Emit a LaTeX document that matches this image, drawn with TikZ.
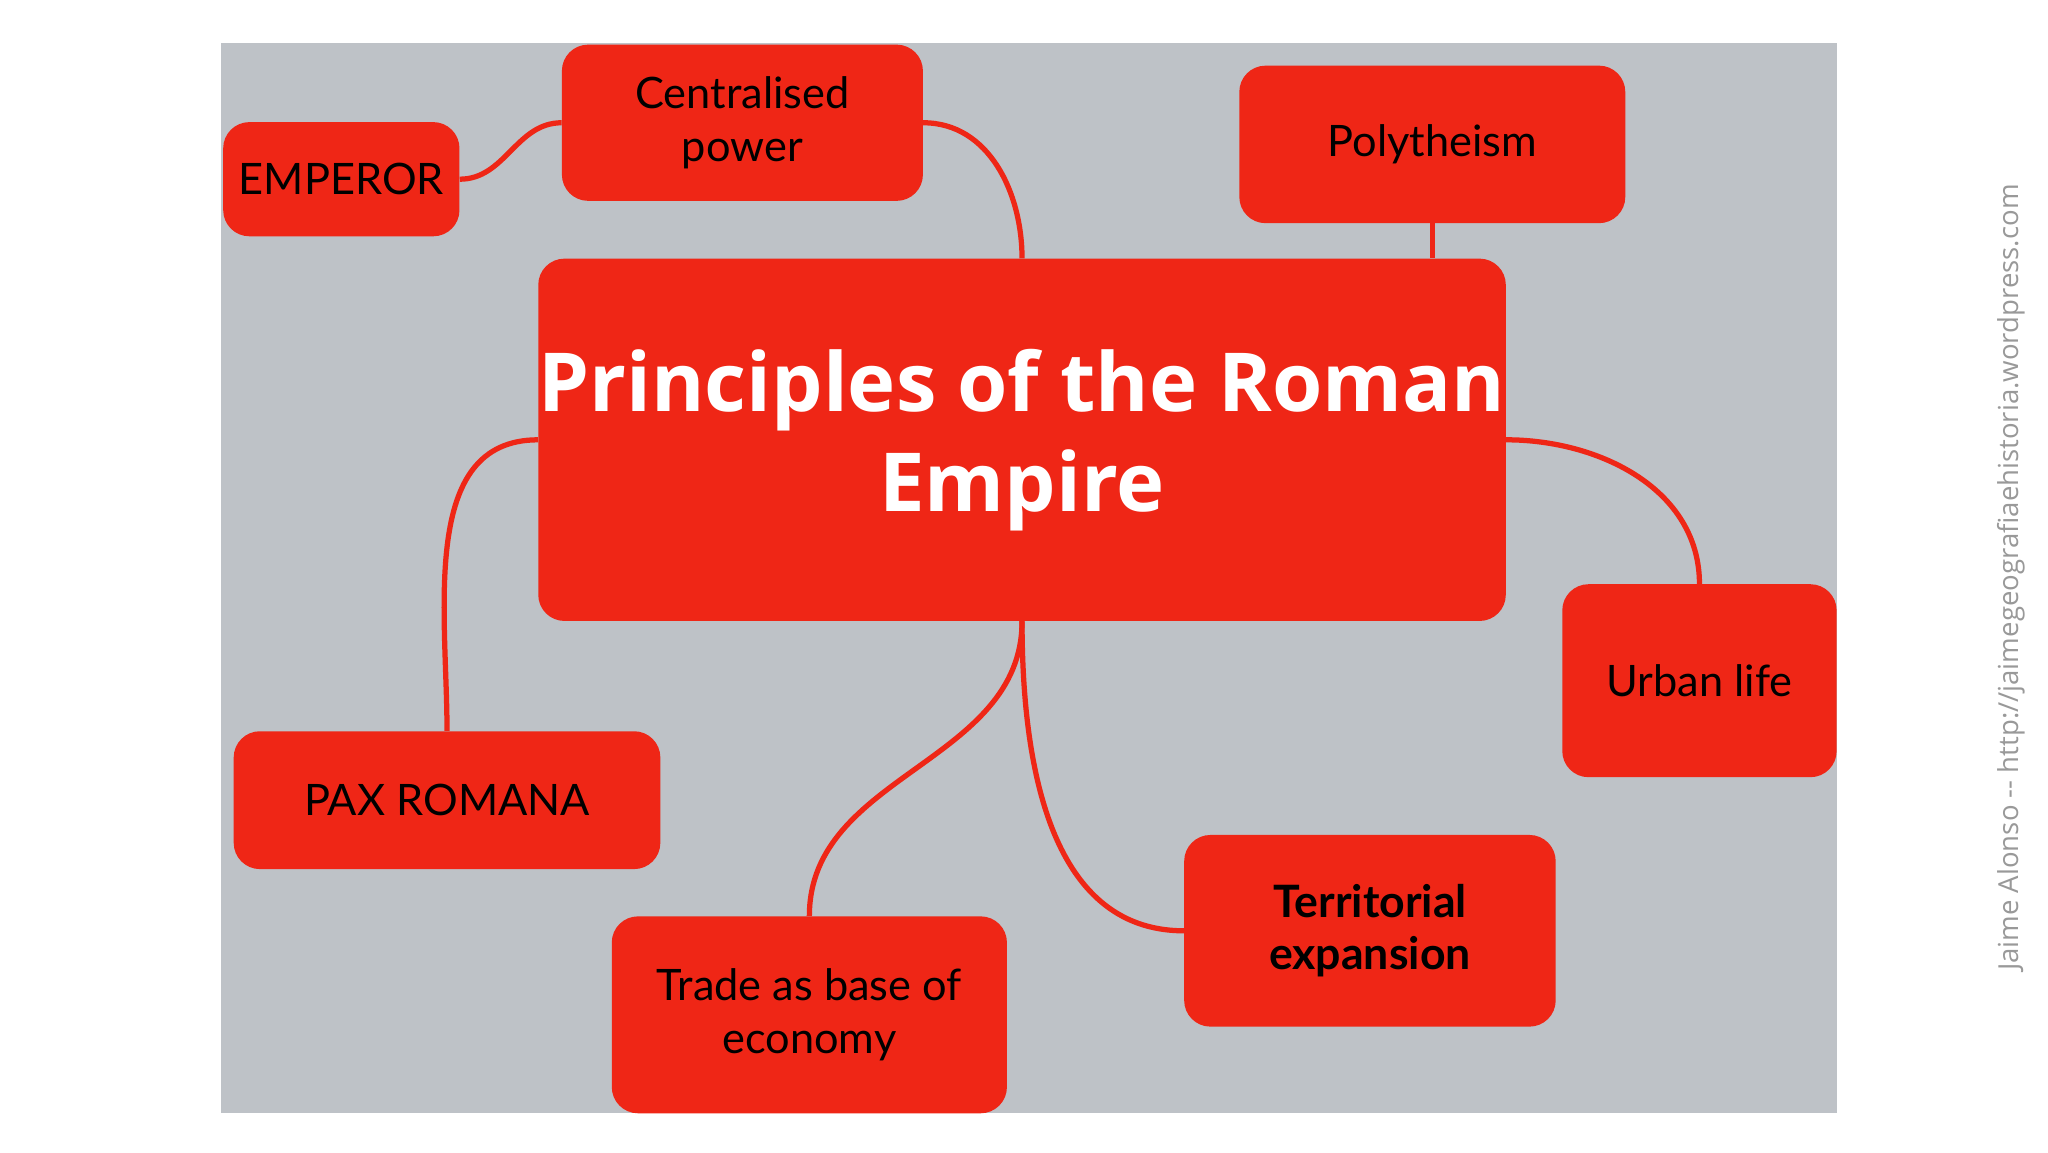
\documentclass[tikz,border=0pt]{standalone}
\usepackage{fontspec}
\setmainfont{Lato}
\newfontfamily\titlefont{Open Sans}
\begin{document}
\begin{tikzpicture}[x=1pt,y=-1pt,
  box/.style={draw=none,fill=rvred,rounded corners=20pt,inner sep=0pt,align=center,font=\fontsize{33}{41}\selectfont,text=black},
  link/.style={draw=rvred,line width=4pt}]
\definecolor{rvred}{HTML}{EF2616}
\definecolor{rvgray}{HTML}{BEC2C7}
\useasboundingbox (0,0) rectangle (1560,878);
\fill[white] (0,0) rectangle (1560,878);
\fill[rvgray] (168,33) rectangle (1399,848);
% links first
\node[box,minimum width=737pt,minimum height=276pt] (main) at (778.5,335) {};
\node[box,minimum width=180pt,minimum height=87pt] (emp) at (260,136.5) {EMPEROR};
\node[box,minimum width=275pt,minimum height=119pt] (cp) at (565.5,93.5) {Centralised\\power};
\node[box,minimum width=294pt,minimum height=120pt] (poly) at (1091,110) {Polytheism};
\node[box,minimum width=209pt,minimum height=147pt] (urban) at (1294.5,518.5) {Urban life};
\node[box,minimum width=325pt,minimum height=105pt] (pax) at (340.5,609.5) {PAX ROMANA};
\node[box,minimum width=283pt,minimum height=146pt,font=\bfseries\fontsize{34}{40}\selectfont] (terr) at (1043.5,709) {Territorial\\expansion};
\node[box,minimum width=301pt,minimum height=150pt] (trade) at (616.5,773) {Trade as base of\\economy};
\begin{scope}[on background layer/.style={}]
\draw[link] (emp.east) to[out=0,in=180] (cp.west);
\draw[link] (cp.east) to[out=0,in=90] (main.north);
\draw[link] (poly.south) -- (poly.south |- main.north);
\draw[link] (main.east) to[out=0,in=90] (urban.north);
\draw[link] (main.west) to[out=180,in=90] (pax.north);
\draw[link] (main.south) to[out=-90,in=90] (trade.north);
\draw[link] (main.south) to[out=-90,in=180] (terr.west);
\end{scope}
\node[font=\titlefont\bfseries\fontsize{62}{76}\selectfont,text=white,align=center] (title) at (778.5,335) {Principles of the Roman\\Empire};
\node[rotate=90,font=\titlefont\fontsize{21}{24}\selectfont,text=gray!80] (wm) at (1532,440) {Jaime Alonso -- http://jaimegeografiaehistoria.wordpress.com};
\end{tikzpicture}
\end{document}
